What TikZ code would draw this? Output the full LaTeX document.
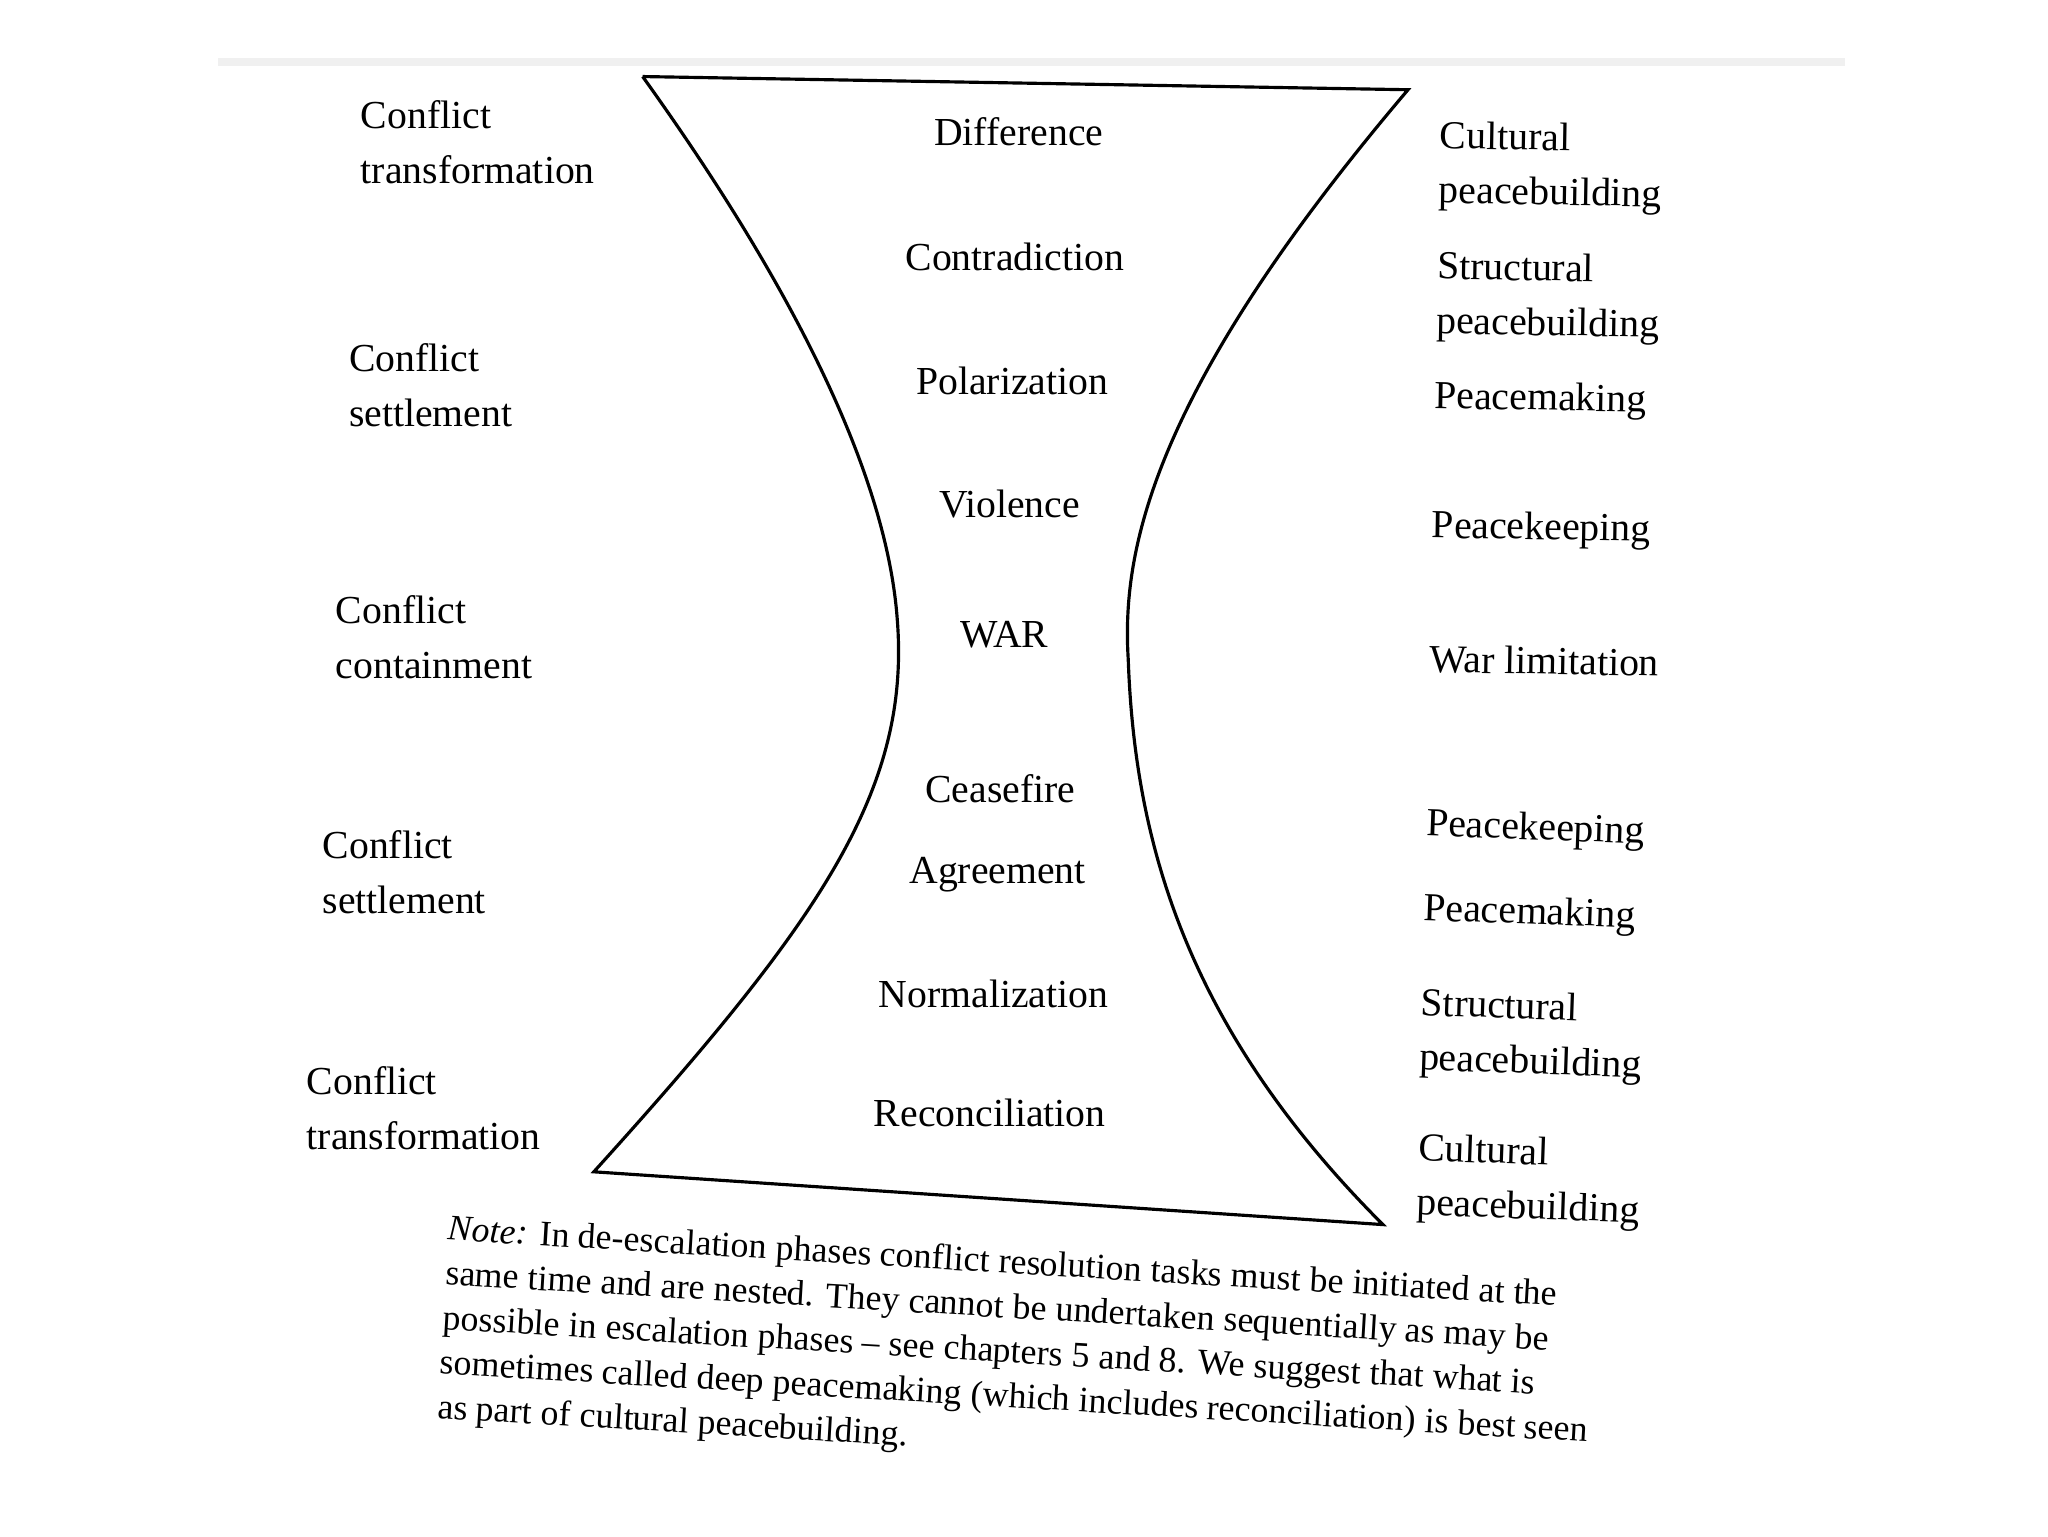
\documentclass[tikz,border=0pt]{standalone}
\usepackage{fontspec}
\setmainfont{Liberation Serif}
\begin{document}
\begin{tikzpicture}[x=0.013196cm,y=-0.013196cm,
 lab/.style={font=\fontsize{11.3}{15.5}\selectfont,align=left,anchor=north west,inner sep=0pt},
 mid/.style={font=\fontsize{11.3}{15}\selectfont,anchor=center,inner sep=0pt},
 note/.style={font=\fontsize{10.2}{12.7}\selectfont,align=left,anchor=north west,inner sep=0pt,rotate=-3.4}]
\useasboundingbox (0,0) rectangle (1552,1164);
\fill[black!6] (165,44) rectangle (1398,50);
\coordinate (tl) at (487,58); \coordinate (tr) at (1067,68);
\coordinate (br) at (1048,928); \coordinate (bl) at (450,888);
\draw[line width=0.9pt] (tl) -- (tr) .. controls (870,300) and (850,420) .. (855,500)
 .. controls (860,640) and (900,780) .. (br) -- (bl)
 .. controls (620,700) and (690,600) .. (680,470)
 .. controls (670,330) and (560,160) .. (tl);
\node[mid] (m1) at (772,100) {Difference};
\node[mid] (m2) at (769,195) {Contradiction};
\node[mid] (m3) at (767,289) {Polarization};
\node[mid] (m4) at (765,382) {Violence};
\node[mid] (m5) at (761,481) {WAR};
\node[mid] (m6) at (758,598) {Ceasefire};
\node[mid] (m7) at (756,663) {Agreement};
\node[mid] (m8) at (753,753) {Normalization};
\node[mid] (m9) at (750,843) {Reconciliation};
\node[lab] (l1) at (273,76) {Conflict\\transformation};
\node[lab] (l2) at (264,260) {Conflict\\settlement};
\node[lab] (l3) at (254,451) {Conflict\\containment};
\node[lab] (l4) at (244,629) {Conflict\\settlement};
\node[lab] (l5) at (232,808) {Conflict\\transformation};
\node[lab,rotate=-1] (r1) at (1091,91) {Cultural\\peacebuilding};
\node[lab,rotate=-1] (r2) at (1089,190) {Structural\\peacebuilding};
\node[lab,rotate=-1] (r3) at (1087,288) {Peacemaking};
\node[lab,rotate=-1] (r4) at (1085,386) {Peacekeeping};
\node[lab,rotate=-1] (r5) at (1083,488) {War limitation};
\node[lab,rotate=-2] (r6) at (1081,612) {Peacekeeping};
\node[lab,rotate=-2] (r7) at (1079,676) {Peacemaking};
\node[lab,rotate=-2] (r8) at (1077,748) {Structural\\peacebuilding};
\node[lab,rotate=-2] (r9) at (1075,858) {Cultural\\peacebuilding};
\node[note] (n) at (340,920) {\textit{Note:} In de-escalation phases conflict resolution tasks must be initiated at the\\
same time and are nested. They cannot be undertaken sequentially as may be\\
possible in escalation phases -- see chapters 5 and 8. We suggest that what is\\
sometimes called deep peacemaking (which includes reconciliation) is best seen\\
as part of cultural peacebuilding.};
\end{tikzpicture}
\end{document}
